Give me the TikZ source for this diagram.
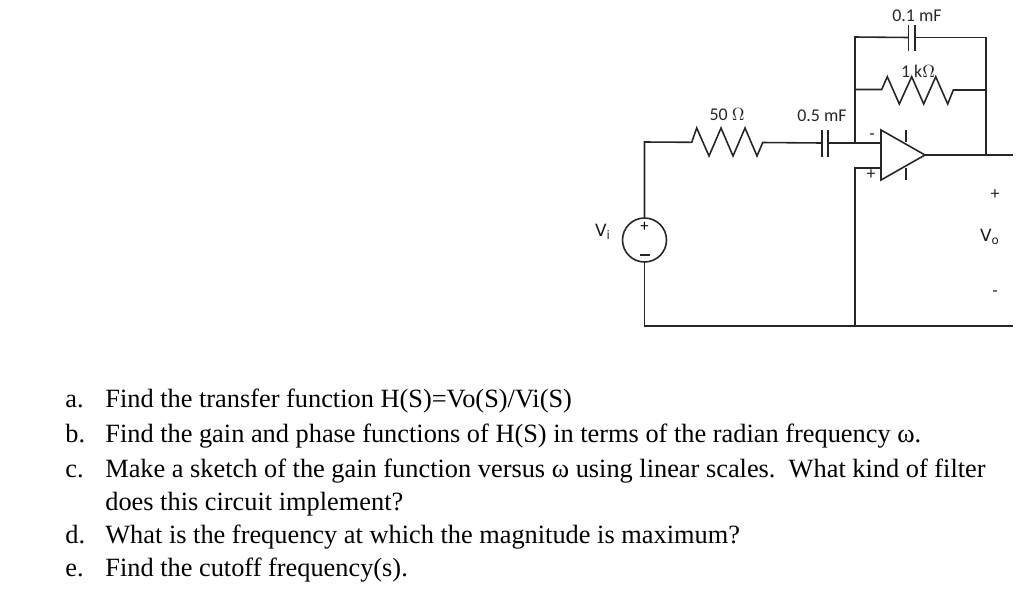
\documentclass[tikz,border=0pt]{standalone}
\usepackage{fontspec}
\setmainfont{Liberation Serif}
\newfontfamily\labelfont{Carlito}
\newfontfamily\voltfont{DejaVu Sans}
\usetikzlibrary{calc}
\tikzset{
	wire/.style={line width=0.9pt, black!85},
	labeltext/.style={font=\labelfont\fontsize{10.2}{12}\selectfont, text=black!85, inner sep=0pt},
	volttext/.style={font=\voltfont\fontsize{9.6}{11}\selectfont, text=black!90, inner sep=0pt},
	itemtext/.style={font=\fontsize{15}{18}\selectfont, anchor=base west, inner sep=0pt},
}
\begin{document}
\begin{tikzpicture}[x=0.02cm, y=-0.02cm]
	\useasboundingbox (0, 0) rectangle (1024, 599);
	%%%%% CIRCUIT %%%%%
	\node[circle, draw, wire, minimum size=44*0.02cm, inner sep=0pt] (vsrc) at (644.5, 240) {};
	\node[font=\labelfont\fontsize{9.5}{10}\selectfont, inner sep=0pt] at ($(vsrc)+(0, -13)$) (vplus) {+};
	\draw[wire, line width=0.7pt] ($(vsrc)+(-5, 15)$) coordinate (vminusL) -- ($(vsrc)+(5, 15)$) coordinate (vminusR);

	\coordinate (topleft) at (644.5, 142);
	\coordinate (botleft) at (644.5, 326);
	\coordinate (botjoin) at (855, 326);
	\coordinate (botright) at (1013, 326);
	\coordinate (invjoin) at (855, 143);
	\coordinate (fbtop) at (855, 37);
	\coordinate (fbmid) at (855, 89.5);
	\coordinate (fbtopR) at (986, 37.5);
	\coordinate (fbmidR) at (986, 90);
	\coordinate (outjoin) at (986, 155);
	\coordinate (outend) at (1013, 155);

	% input resistor
	\draw[wire] (vsrc.north) -- (topleft) -- (691.7, 142.3) -- (696.7, 128) -- (709, 156) -- (721, 128) -- (733, 156) -- (745, 128) -- (757, 156) -- (762.7, 142.5) -- (821.7, 143);

	% input capacitor
	\draw[wire] (821.7, 130) -- (821.7, 156.5);
	\draw[wire] (828, 130) -- (828, 156.5);
	\draw[wire] (828, 143) -- (invjoin) -- (881, 143);

	% op amp
	\node[inner sep=0pt] (opout) at (925, 155) {};
	\draw[wire, line join=miter] (881, 130) -- (opout.center) -- (881, 180) -- cycle;
	\draw[wire] (906, 130) -- (906, 142);
	\draw[wire] (906, 168) -- (906, 180);
	\draw[wire] (opout.center) -- (outjoin) -- (outend);
	\draw[wire] (881, 168) -- (855, 168) -- (botjoin);

	% feedback capacitor
	\draw[wire] (invjoin) -- (fbtop) -- (908.3, 37.5);
	\draw[wire] (908.3, 25) -- (908.3, 51);
	\draw[wire] (915, 25) -- (915, 51);
	\draw[wire] (915, 37.5) -- (fbtopR) -- (outjoin);

	% feedback resistor
	\draw[wire] (fbmid) -- (881.7, 89.5) -- (887.3, 76.7) -- (899.3, 104) -- (911.7, 76.7) -- (923.7, 104) -- (935.7, 76.7) -- (947.7, 104) -- (953.3, 90) -- (fbmidR);

	% return
	\draw[wire] (vsrc.south) -- (botleft) -- (botjoin) -- (botright);

	%%%%% LABELS %%%%%
	\node[labeltext] (lblCf) at (917, 16) {0.1 mF};
	\node[labeltext] (lblRf) at (918, 71) {1 k$\Omega$};
	\node[labeltext] (lblR) at (727, 115) {50 $\Omega$};
	\node[labeltext] (lblC) at (822, 116) {0.5 mF};
	\node[volttext] (lblVi) at (603, 232) {V\textsubscript{i}};
	\node[volttext] (lblVo) at (990, 237) {V\textsubscript{o}};
	\node[labeltext] (lblVoP) at (995, 195) {+};
	\node[labeltext] (lblVoM) at (995, 294) {-};
	\node[labeltext] (lblInvM) at (872, 137) {-};
	\node[labeltext] (lblInvP) at (871, 175) {+};

	%%%%% QUESTIONS %%%%%
	\node[itemtext] (qa) at (65, 407) {a.};
	\node[itemtext] (qaT) at (105, 407) {Find the transfer function H(S)=Vo(S)/Vi(S)};
	\node[itemtext] (qb) at (65, 442) {b.};
	\node[itemtext] (qbT) at (105, 442) {Find the gain and phase functions of H(S) in terms of the radian frequency ω.};
	\node[itemtext] (qc) at (65, 477) {c.};
	\node[itemtext] (qcT) at (105, 477) {Make a sketch of the gain function versus ω using linear scales.\ \ What kind of filter};
	\node[itemtext] (qcU) at (105, 510) {does this circuit implement?};
	\node[itemtext] (qd) at (65, 543) {d.};
	\node[itemtext] (qdT) at (105, 543) {What is the frequency at which the magnitude is maximum?};
	\node[itemtext] (qe) at (65, 576) {e.};
	\node[itemtext] (qeT) at (105, 576) {Find the cutoff frequency(s).};
\end{tikzpicture}
\end{document}
